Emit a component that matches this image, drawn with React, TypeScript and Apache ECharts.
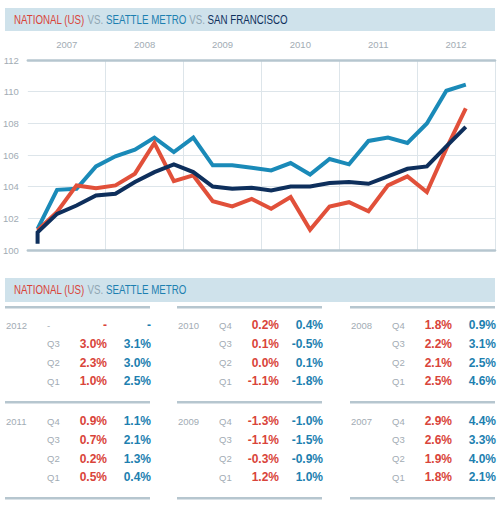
import React, { useEffect, useRef } from "react";
import * as echarts from "echarts";

// ---- Data ----
const years = ["2007", "2008", "2009", "2010", "2011", "2012"];
const quarterNames = ["Q1", "Q2", "Q3", "Q4"];
const yTicks = { min: 100, max: 112, interval: 2 };

// Index values by quarter (2007 Q1 .. 2012 Q3)
const nationalIndex = [101.23, 102.4, 104.08, 103.9, 104.08, 104.82, 106.76, 104.35, 104.71, 103.08, 102.75, 103.23, 102.6, 103.34, 101.27, 102.75, 103.02, 102.45, 104.08, 104.65, 103.66, 106.4, 108.94];
const seattleIndex = [101.33, 103.8, 103.87, 105.28, 105.92, 106.34, 107.1, 106.19, 107.1, 105.35, 105.35, 105.2, 105.03, 105.49, 104.77, 105.75, 105.41, 106.89, 107.1, 106.76, 107.99, 110.06, 110.44];
const sfIndex = [101.12, 102.28, 102.81, 103.44, 103.55, 104.29, 104.92, 105.41, 104.92, 104.01, 103.87, 103.93, 103.76, 104.01, 104.01, 104.23, 104.29, 104.18, 104.65, 105.13, 105.28, 106.55, 107.78];
const sfBase = 100.4;

// Table: quarterly change
const tableYears = ["2012", "2010", "2008", "2011", "2009", "2007"];
const tableQuarters = ["Q4", "Q3", "Q2", "Q1"];
const nationalChange: (number | null)[][] = [
  [null, 3.0, 2.3, 1.0],
  [0.2, 0.1, 0.0, -1.1],
  [1.8, 2.2, 2.1, 2.5],
  [0.9, 0.7, 0.2, 0.5],
  [-1.3, -1.1, -0.3, 1.2],
  [2.9, 2.6, 1.9, 1.8],
];
const seattleChange: (number | null)[][] = [
  [null, 3.1, 3.0, 2.5],
  [0.4, -0.5, 0.1, -1.8],
  [0.9, 3.1, 2.5, 4.6],
  [1.1, 2.1, 1.3, 0.4],
  [-1.0, -1.5, -0.9, 1.0],
  [4.4, 3.3, 4.0, 2.1],
];

// ---- Styles ----
const RED = "#e1503a";
const TEAL = "#1a8ab8";
const NAVY = "#0e2f5c";
const TRED = "#d9443a";
const TBLUE = "#1d7fb0";
const GRAY = "#a2acb4";
const BAND = "#cfe2eb";
const RULE = "#b6c6cf";
const GRID = "#dde5ea";
const SANS = "'Liberation Sans', Arial, sans-serif";

const quarters = years.flatMap((y) => quarterNames.map((q) => `${y} ${q}`));

function fmt(v: number | null) {
  return v == null ? "-" : v.toFixed(1) + "%";
}

function titleText(x: number, y: number, parts: [string, string][]) {
  const rich: any = {};
  let text = "";
  parts.forEach(([t, c], i) => {
    rich["s" + i] = { fill: c, fontSize: 12.5, fontFamily: SANS };
    text += `{s${i}|${t}}`;
  });
  return {
    type: "text",
    x,
    y,
    scaleX: 0.78,
    style: { text, rich, verticalAlign: "middle", align: "left" },
  };
}

function buildGraphics() {
  const g: any[] = [];
  g.push({ type: "rect", shape: { x: 5, y: 8, width: 490, height: 23 }, style: { fill: BAND } });
  g.push(
    titleText(14, 20, [
      ["NATIONAL (US)", TRED],
      [" VS. ", "#8fa6b3"],
      ["SEATTLE METRO", TBLUE],
      [" VS. ", "#8fa6b3"],
      ["SAN FRANCISCO", NAVY],
    ])
  );
  g.push({ type: "rect", shape: { x: 5, y: 278, width: 490, height: 24 }, style: { fill: BAND } });
  g.push(
    titleText(14, 290, [
      ["NATIONAL (US)", TRED],
      [" VS. ", "#8fa6b3"],
      ["SEATTLE METRO", TBLUE],
    ])
  );

  const colX = [6, 178, 351];
  const sepY = [306, 401, 497];
  const rowY0 = [325, 421];
  const step = 18.8;
  colX.forEach((cx) => {
    sepY.forEach((sy) => {
      g.push({ type: "rect", shape: { x: cx - 1, y: sy, width: 145, height: 2.5 }, style: { fill: RULE } });
    });
  });
  tableYears.forEach((yr, b) => {
    const cx = colX[b % 3];
    const y0 = rowY0[Math.floor(b / 3)];
    g.push({
      type: "text",
      x: cx,
      y: y0,
      style: { text: yr, fill: GRAY, fontSize: 9.5, fontFamily: SANS, verticalAlign: "middle" },
    });
    tableQuarters.forEach((q, r) => {
      const y = y0 + r * step;
      const nv = nationalChange[b][r];
      const sv = seattleChange[b][r];
      g.push({
        type: "text",
        x: cx + 41,
        y,
        style: { text: nv == null ? "-" : q, fill: GRAY, fontSize: 9.5, fontFamily: SANS, verticalAlign: "middle" },
      });
      g.push({
        type: "text",
        x: cx + 101,
        y,
        style: { text: fmt(nv), fill: TRED, fontSize: 12, fontWeight: "bold", fontFamily: SANS, align: "right", verticalAlign: "middle" },
      });
      g.push({
        type: "text",
        x: cx + 145,
        y,
        style: { text: fmt(sv), fill: TBLUE, fontSize: 12, fontWeight: "bold", fontFamily: SANS, align: "right", verticalAlign: "middle" },
      });
    });
  });
  return g;
}

export default function App() {
  const ref = useRef<HTMLDivElement>(null);
  useEffect(() => {
    document.body.style.margin = "0";
    const chart = echarts.init(ref.current!, null, { renderer: "svg" });
    const line = (name: string, data: any[], color: string, z: number) => ({
      name,
      type: "line",
      data,
      symbol: "none",
      z,
      lineStyle: { color, width: 4, join: "miter" },
      itemStyle: { color },
    });
    chart.setOption({
      animation: false,
      backgroundColor: "#ffffff",
      grid: { left: 27, right: 5, top: 60, height: 190, containLabel: false },
      xAxis: [
        {
          type: "category",
          data: quarters,
          boundaryGap: true,
          axisLine: { show: true, lineStyle: { color: RULE, width: 2.5 } },
          axisTick: { show: false },
          axisLabel: { show: false },
          splitLine: { show: false },
        },
        {
          type: "category",
          data: years,
          position: "top",
          boundaryGap: true,
          axisLine: { show: true, lineStyle: { color: RULE, width: 2.5 } },
          axisTick: { show: false },
          axisLabel: { color: GRAY, fontSize: 9.5, fontFamily: SANS, margin: 11 },
          splitLine: {
            show: true,
            interval: (i: number) => i > 0,
            lineStyle: { color: GRID, width: 1 },
          },
        },
      ],
      yAxis: {
        type: "value",
        min: yTicks.min,
        max: yTicks.max,
        interval: yTicks.interval,
        axisLine: { show: false },
        axisTick: { show: false },
        axisLabel: { color: GRAY, fontSize: 9.5, fontFamily: SANS, margin: 9 },
        splitLine: { lineStyle: { color: GRID, width: 1.2 } },
      },
      series: [
        line("Seattle Metro", seattleIndex, TEAL, 2),
        line("National (US)", nationalIndex, RED, 3),
        line("San Francisco", [[0, sfBase], ...sfIndex.map((v, i) => [i, v])], NAVY, 4),
      ],
      graphic: buildGraphics(),
    });
    return () => chart.dispose();
  }, []);
  return <div ref={ref} style={{ position: "absolute", left: 0, top: 0, width: 500, height: 507 }} />;
}
